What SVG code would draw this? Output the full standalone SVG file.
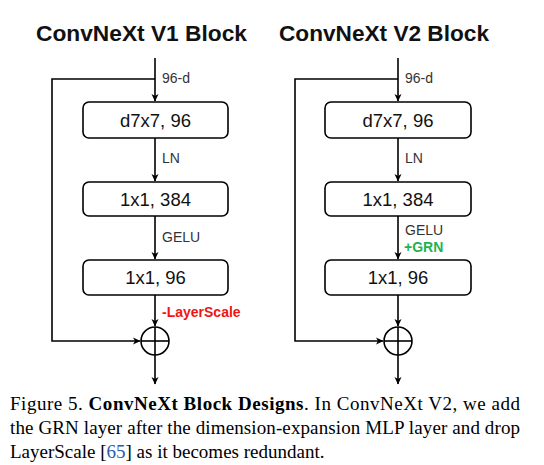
<svg xmlns="http://www.w3.org/2000/svg" width="544" height="465" viewBox="0 0 544 465">
<defs>
<marker id="ah" markerWidth="8" markerHeight="8" refX="7" refY="4" orient="auto" markerUnits="userSpaceOnUse">
<path d="M0,0.5 L7.5,4 L0,7.5 L2,4 Z" fill="#000"/>
</marker>
<style>
.box{fill:#fff;stroke:#000;stroke-width:1.6}
.ln{fill:none;stroke:#000;stroke-width:1.6}
.bt{font-family:"Liberation Sans",Arial,sans-serif;font-size:18.5px;fill:#111;text-anchor:middle}
.lb{font-family:"Liberation Sans",Arial,sans-serif;font-size:14px;fill:#333}
.tt{font-family:"Liberation Sans",Arial,sans-serif;font-size:21.5px;font-weight:bold;fill:#111}
.cap{font-family:"Liberation Serif","Times New Roman",serif;font-size:19px;fill:#000}
</style>
</defs>
<rect width="544" height="465" fill="#fff"/>
<text class="tt" x="36" y="41" textLength="211" lengthAdjust="spacingAndGlyphs">ConvNeXt V1 Block</text>
<text class="tt" x="279" y="41" textLength="210" lengthAdjust="spacingAndGlyphs">ConvNeXt V2 Block</text>
<g id="connectors">
<line class="ln" x1="155" y1="58" x2="155" y2="101" marker-end="url(#ah)"/>
<polyline class="ln" points="155,79 52,79 52,341 140,341" marker-end="url(#ah)"/>
<line class="ln" x1="155" y1="138" x2="155" y2="181" marker-end="url(#ah)"/>
<line class="ln" x1="155" y1="216" x2="155" y2="259" marker-end="url(#ah)"/>
<line class="ln" x1="155" y1="295" x2="155" y2="326" marker-end="url(#ah)"/>
<line class="ln" x1="155" y1="355" x2="155" y2="384" marker-end="url(#ah)"/>
<line class="ln" x1="398" y1="58" x2="398" y2="101" marker-end="url(#ah)"/>
<polyline class="ln" points="398,79 295,79 295,341 383,341" marker-end="url(#ah)"/>
<line class="ln" x1="398" y1="138" x2="398" y2="181" marker-end="url(#ah)"/>
<line class="ln" x1="398" y1="216" x2="398" y2="259" marker-end="url(#ah)"/>
<line class="ln" x1="398" y1="295" x2="398" y2="326" marker-end="url(#ah)"/>
<line class="ln" x1="398" y1="355" x2="398" y2="384" marker-end="url(#ah)"/>
<text class="lb" x="162" y="83">96-d</text>
<text class="lb" x="162" y="163">LN</text>
<text class="lb" x="162" y="242">GELU</text>
<text class="lb" x="162" y="317" style="fill:#f01414;font-weight:bold">-LayerScale</text>
<text class="lb" x="405" y="83">96-d</text>
<text class="lb" x="405" y="163">LN</text>
<text class="lb" x="405" y="235">GELU</text>
<text class="lb" x="404" y="252" style="fill:#1fb350;font-weight:bold">+GRN</text>
</g>
<g id="v1-dw">
<rect class="box" x="83" y="102" width="145" height="36" rx="6"/>
<text class="bt" x="155.5" y="127">d7x7, 96</text>
</g>
<g id="v1-pw1">
<rect class="box" x="83" y="182" width="145" height="34" rx="6"/>
<text class="bt" x="155.5" y="206">1x1, 384</text>
</g>
<g id="v1-pw2">
<rect class="box" x="83" y="260" width="145" height="35" rx="6"/>
<text class="bt" x="155.5" y="284">1x1, 96</text>
</g>
<g id="v1-add">
<circle class="ln" cx="155" cy="341" r="14"/>
<line class="ln" x1="141" y1="341" x2="169" y2="341"/>
<line class="ln" x1="155" y1="327" x2="155" y2="355"/>
</g>
<g id="v2-dw">
<rect class="box" x="325" y="102" width="146" height="36" rx="6"/>
<text class="bt" x="398" y="127">d7x7, 96</text>
</g>
<g id="v2-pw1">
<rect class="box" x="325" y="182" width="146" height="34" rx="6"/>
<text class="bt" x="398" y="206">1x1, 384</text>
</g>
<g id="v2-pw2">
<rect class="box" x="325" y="260" width="146" height="35" rx="6"/>
<text class="bt" x="398" y="284">1x1, 96</text>
</g>
<g id="v2-add">
<circle class="ln" cx="398" cy="341" r="14"/>
<line class="ln" x1="384" y1="341" x2="412" y2="341"/>
<line class="ln" x1="398" y1="327" x2="398" y2="355"/>
</g>
<g id="caption">
<text class="cap" x="10" y="410" textLength="510" lengthAdjust="spacing">Figure 5.  <tspan font-weight="bold">ConvNeXt Block Designs</tspan>.  In ConvNeXt V2, we add</text>
<text class="cap" x="10" y="434" textLength="510" lengthAdjust="spacing">the GRN layer after the dimension-expansion MLP layer and drop</text>
<text class="cap" x="10" y="458">LayerScale [<tspan fill="#2a5caa">65</tspan>] as it becomes redundant.</text>
</g>
</svg>
